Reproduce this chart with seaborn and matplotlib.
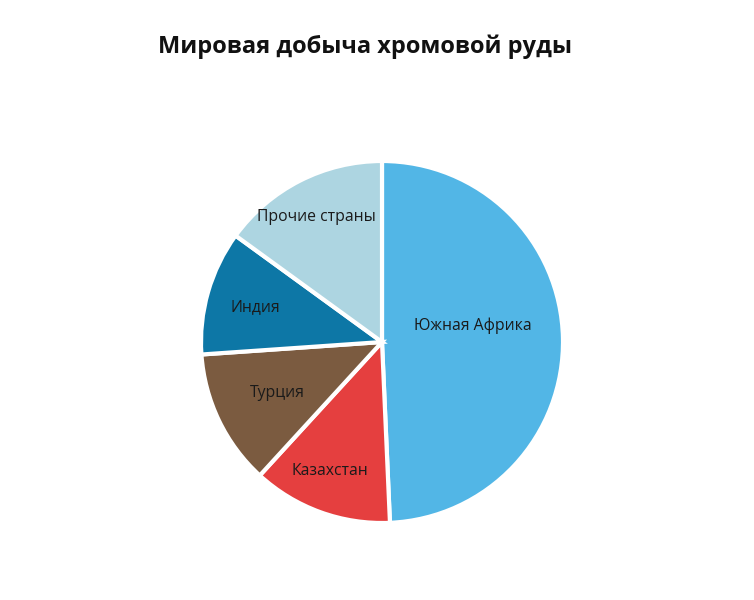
import matplotlib
matplotlib.use("Agg")
import matplotlib.pyplot as plt
import seaborn as sns

countries = ["Южная Африка", "Казахстан", "Турция", "Индия", "Прочие страны"]
shares = [49.3, 12.5, 12.1, 11.1, 15.0]
colors = ["#52b6e6", "#e53f3f", "#7b5b40", "#0d77a6", "#add5e1"]
label_offsets = [(0.50, 0.09), (-0.29, -0.71), (-0.58, -0.28), (-0.70, 0.19), (-0.36, 0.69)]

sns.set_theme(style="white")
plt.rcParams['font.family'] = ['Open Sans', 'DejaVu Sans']

fig = plt.figure(figsize=(7.54, 6.0), dpi=100)
fig.patch.set_facecolor("white")
r = 181
cx, cy = 382, 342
ax = fig.add_axes([(cx - r) / 754, (600 - cy - r) / 600, 2 * r / 754, 2 * r / 600])
wedges, _ = ax.pie(shares, colors=colors, startangle=90, counterclock=False,
                   wedgeprops=dict(edgecolor="white", linewidth=3))
ax.set_xlim(-1, 1)
ax.set_ylim(-1, 1)
ax.set_aspect("equal")
for name, (x, y) in zip(countries, label_offsets):
    ax.text(x, y, name, ha="center", va="center", fontsize=11.3, color="#1a1a1a")

fig.text(365 / 754, 1 - 47 / 600, "Мировая добыча хромовой руды", ha="center", va="center",
         fontsize=17, fontweight="bold", color="#111111")

fig.savefig("out.png", dpi=100, facecolor="white")
